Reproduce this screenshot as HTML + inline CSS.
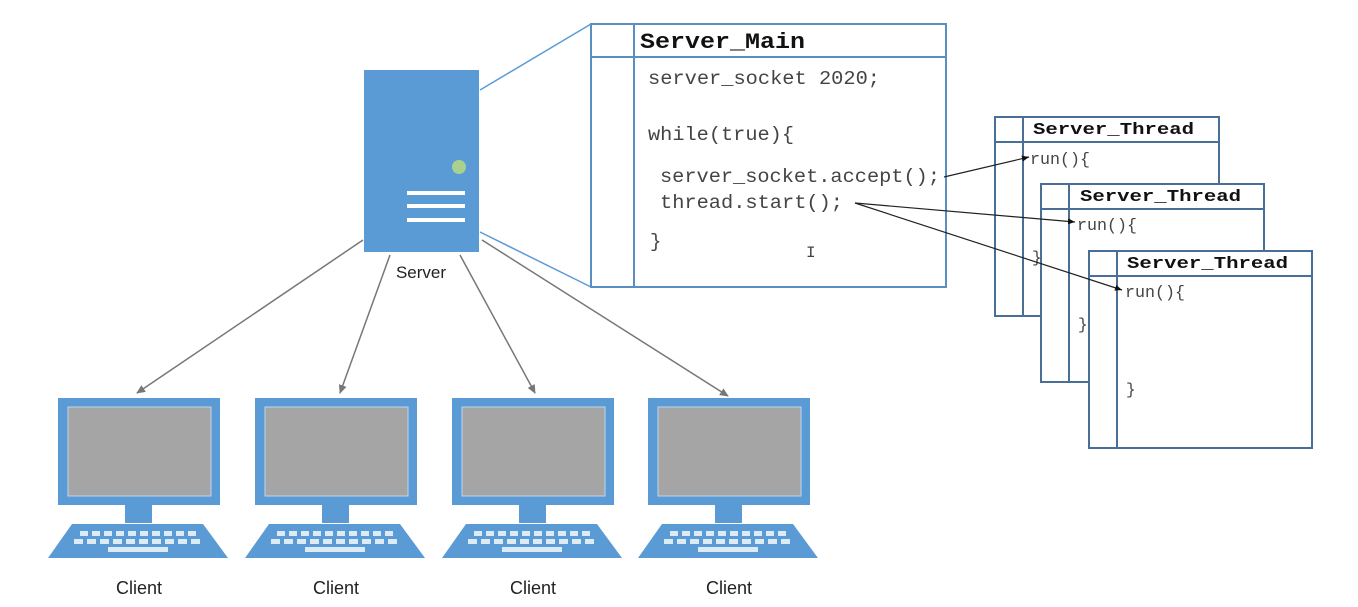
<!DOCTYPE html>
<html><head><meta charset="utf-8"><style>
html,body{margin:0;padding:0;background:#fff;}
svg{display:block;}
.m{font-family:"Liberation Mono",monospace;fill:#444;}
.s{font-family:"Liberation Sans",sans-serif;fill:#222;}
</style></head><body>
<svg width="1358" height="607" viewBox="0 0 1358 607" xmlns="http://www.w3.org/2000/svg">
<defs>
<marker id="ga" markerWidth="10" markerHeight="10" refX="8" refY="5" orient="auto" markerUnits="userSpaceOnUse"><path d="M0,1 L9,5 L0,9 z" fill="#777"/></marker>
<marker id="ba" markerWidth="8" markerHeight="8" refX="7" refY="4" orient="auto" markerUnits="userSpaceOnUse"><path d="M0,1 L7,4 L0,7 z" fill="#111"/></marker>
<g id="client">
<rect x="58" y="398" width="162" height="107" fill="#5b9bd5"/>
<rect x="68" y="407" width="143" height="89" fill="#a5a5a5" stroke="#bdd7ee" stroke-width="1"/>
<rect x="125" y="505" width="27" height="18" fill="#5b9bd5"/>
<path d="M72,524 L203,524 L228,558 L48,558 z" fill="#5b9bd5"/>
<g fill="#ddebf7">
<rect x="80" y="531" width="8" height="5"/><rect x="92" y="531" width="8" height="5"/><rect x="104" y="531" width="8" height="5"/><rect x="116" y="531" width="8" height="5"/><rect x="128" y="531" width="8" height="5"/><rect x="140" y="531" width="8" height="5"/><rect x="152" y="531" width="8" height="5"/><rect x="164" y="531" width="8" height="5"/><rect x="176" y="531" width="8" height="5"/><rect x="188" y="531" width="8" height="5"/>
<rect x="74" y="539" width="9" height="5"/><rect x="87" y="539" width="9" height="5"/><rect x="100" y="539" width="9" height="5"/><rect x="113" y="539" width="9" height="5"/><rect x="126" y="539" width="9" height="5"/><rect x="139" y="539" width="9" height="5"/><rect x="152" y="539" width="9" height="5"/><rect x="165" y="539" width="9" height="5"/><rect x="178" y="539" width="9" height="5"/><rect x="191" y="539" width="9" height="5"/>
<rect x="108" y="547" width="60" height="5"/>
</g>
<text x="139" y="594" font-size="18" text-anchor="middle" class="s">Client</text>
</g>
</defs>

<g stroke="#777" stroke-width="1.5" fill="none" marker-end="url(#ga)">
<line x1="363" y1="240" x2="137" y2="393"/>
<line x1="390" y1="255" x2="340" y2="393"/>
<line x1="460" y1="255" x2="535" y2="393"/>
<line x1="482" y1="240" x2="728" y2="396"/>
</g>

<use href="#client"/>
<use href="#client" x="197"/>
<use href="#client" x="394"/>
<use href="#client" x="590"/>

<rect x="364" y="70" width="115" height="182" fill="#5b9bd5"/>
<circle cx="459" cy="167" r="7" fill="#a9d18e"/>
<rect x="407" y="191" width="58" height="4" fill="#fff"/>
<rect x="407" y="204" width="58" height="4" fill="#fff"/>
<rect x="407" y="218" width="58" height="4" fill="#fff"/>
<text x="421" y="278" font-size="17" text-anchor="middle" class="s">Server</text>

<line x1="480" y1="90" x2="591" y2="24" stroke="#5b9bd5" stroke-width="1.5"/>
<line x1="480" y1="232" x2="591" y2="287" stroke="#5b9bd5" stroke-width="1.5"/>

<rect x="591" y="24" width="355" height="263" fill="#fff" stroke="#5b8fbf" stroke-width="2"/>
<line x1="591" y1="57" x2="946" y2="57" stroke="#5b8fbf" stroke-width="2"/>
<line x1="634" y1="24" x2="634" y2="287" stroke="#5b8fbf" stroke-width="2"/>
<text x="640" y="48" font-size="22" font-weight="bold" class="m" style="fill:#111" textLength="165" lengthAdjust="spacingAndGlyphs">Server_Main</text>
<text x="648" y="84" font-size="19" class="m" textLength="232" lengthAdjust="spacingAndGlyphs">server_socket 2020;</text>
<text x="648" y="140" font-size="19" class="m" textLength="146" lengthAdjust="spacingAndGlyphs">while(true){</text>
<text x="660" y="182" font-size="19" class="m" textLength="280" lengthAdjust="spacingAndGlyphs">server_socket.accept();</text>
<text x="660" y="208" font-size="19" class="m" textLength="183" lengthAdjust="spacingAndGlyphs">thread.start();</text>
<text x="650" y="247" font-size="19" class="m">}</text>
<text x="806" y="257" font-size="16" class="m">I</text>

<g stroke="#4a6f96" stroke-width="2" fill="#fff">
<rect x="995" y="117" width="224" height="199"/>
<line x1="995" y1="142" x2="1219" y2="142"/>
<line x1="1023" y1="117" x2="1023" y2="316"/>
</g>
<text x="1033" y="134" font-size="17" font-weight="bold" class="m" style="fill:#111" textLength="161" lengthAdjust="spacingAndGlyphs">Server_Thread</text>
<text x="1030" y="164" font-size="17" class="m" textLength="60" lengthAdjust="spacingAndGlyphs">run(){</text>
<text x="1032" y="262" font-size="16" class="m">}</text>

<g stroke="#4a6f96" stroke-width="2" fill="#fff">
<rect x="1041" y="184" width="223" height="198"/>
<line x1="1041" y1="209" x2="1264" y2="209"/>
<line x1="1069" y1="184" x2="1069" y2="382"/>
</g>
<text x="1080" y="201" font-size="17" font-weight="bold" class="m" style="fill:#111" textLength="161" lengthAdjust="spacingAndGlyphs">Server_Thread</text>
<text x="1077" y="230" font-size="17" class="m" textLength="60" lengthAdjust="spacingAndGlyphs">run(){</text>
<text x="1078" y="329" font-size="16" class="m">}</text>

<g stroke="#4a6f96" stroke-width="2" fill="#fff">
<rect x="1089" y="251" width="223" height="197"/>
<line x1="1089" y1="276" x2="1312" y2="276"/>
<line x1="1117" y1="251" x2="1117" y2="448"/>
</g>
<text x="1127" y="268" font-size="17" font-weight="bold" class="m" style="fill:#111" textLength="161" lengthAdjust="spacingAndGlyphs">Server_Thread</text>
<text x="1125" y="297" font-size="17" class="m" textLength="60" lengthAdjust="spacingAndGlyphs">run(){</text>
<text x="1126" y="394" font-size="16" class="m">}</text>

<g stroke="#222" stroke-width="1.2" fill="none" marker-end="url(#ba)">
<line x1="944" y1="177" x2="1029" y2="157"/>
<line x1="855" y1="203" x2="1075" y2="222"/>
<line x1="855" y1="203" x2="1122" y2="290"/>
</g>
</svg>
</body></html>
